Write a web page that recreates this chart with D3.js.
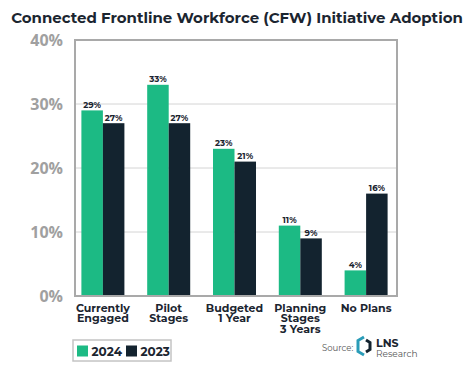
<!DOCTYPE html>
<html>
<head>
<meta charset="utf-8">
<script src="https://cdn.jsdelivr.net/npm/d3@7"></script>
<style>
  body { margin: 0; background: #fff; }
  text { font-family: "Montserrat", "Open Sans", "DejaVu Sans", sans-serif; }
</style>
</head>
<body>
<div id="chart"></div>
<script>
// chart data
const categories = [["Currently", "Engaged"], ["Pilot", "Stages"], ["Budgeted", "1 Year"], ["Planning", "Stages", "3 Years"], ["No Plans"]];
const years = ["2024", "2023"];
const values2024 = [29, 33, 23, 11, 4];
const values2023 = [27, 27, 21, 9, 16];
const yTicks = [0, 10, 20, 30, 40];
const colours = {"2024": "#1cba84", "2023": "#13232f"};

const width = 474, height = 369;
const plot = {left: 75, right: 397, top: 40, bottom: 296};

const svg = d3.select("#chart").append("svg")
    .attr("width", width)
    .attr("height", height);

svg.append("rect").attr("width", width).attr("height", height).attr("fill", "#fff");

// title - shrink font until it fits the reference width
const title = svg.append("text")
    .attr("x", 237)
    .attr("y", 23)
    .attr("text-anchor", "middle")
    .attr("font-size", 16.5)
    .attr("font-weight", 700)
    .attr("fill", "#1b2530")
    .text("Connected Frontline Workforce (CFW) Initiative Adoption");
let tw = title.node().getComputedTextLength();
if (tw > 452) {
    title.attr("font-size", 16.5 * 452 / tw);
}

const catIdx = d3.range(categories.length);
const x = d3.scaleBand().domain(catIdx).range([70, 399]).padding(0);
const xSub = d3.scaleBand().domain(years).range([0, x.bandwidth()]).paddingInner(0).paddingOuter(0.53);
const y = d3.scaleLinear().domain([0, 40]).range([plot.bottom, plot.top]);

// gridlines
svg.append("g")
    .selectAll("line")
    .data(yTicks.slice(1, -1))
    .enter().append("line")
        .attr("x1", plot.left).attr("x2", plot.right)
        .attr("y1", d => y(d)).attr("y2", d => y(d))
        .attr("stroke", "#d4d4d4")
        .attr("stroke-width", 1);

// y axis labels
const yAxis = svg.append("g")
    .attr("transform", `translate(${plot.left}, 0)`)
    .call(d3.axisLeft(y).tickValues(yTicks).tickFormat(d => d + "%").tickSize(0).tickPadding(12));
yAxis.select(".domain").remove();
yAxis.selectAll("text")
    .attr("font-size", 16)
    .attr("font-weight", 700)
    .attr("fill", "#a0a0a0")
    .style("font-family", "'Open Sans', sans-serif");

// bars
const rows = catIdx.map(i => ({i: i, vals: [{k: "2024", v: values2024[i]}, {k: "2023", v: values2023[i]}]}));

const groups = svg.append("g").selectAll("g")
    .data(rows)
    .enter().append("g")
        .attr("transform", d => `translate(${x(d.i)}, 0)`);

groups.selectAll("rect")
    .data(d => d.vals)
    .enter().append("rect")
        .attr("x", d => xSub(d.k))
        .attr("y", d => y(d.v))
        .attr("width", xSub.bandwidth())
        .attr("height", d => y(0) - y(d.v))
        .attr("fill", d => colours[d.k]);

groups.selectAll("text.val")
    .data(d => d.vals)
    .enter().append("text")
        .attr("class", "val")
        .attr("x", d => xSub(d.k) + xSub.bandwidth() / 2)
        .attr("y", d => y(d.v) - 2.5)
        .attr("text-anchor", "middle")
        .attr("font-size", 8.5)
        .attr("font-weight", 700)
        .attr("fill", "#1b2530")
        .text(d => d.v + "%");

// frame
svg.append("rect")
    .attr("x", plot.left).attr("y", plot.top)
    .attr("width", plot.right - plot.left).attr("height", plot.bottom - plot.top)
    .attr("fill", "none")
    .attr("stroke", "#a9a9a9")
    .attr("stroke-width", 2);

// category labels, one text per line
const catLabels = svg.append("g").selectAll("g")
    .data(catIdx)
    .enter().append("g");
catLabels.selectAll("text")
    .data(i => categories[i].map((s, j) => ({i: i, j: j, s: s})))
    .enter().append("text")
        .attr("x", d => x(d.i) + x.bandwidth() / 2)
        .attr("y", d => 311.5 + d.j * 10.7)
        .attr("text-anchor", "middle")
        .attr("font-size", 11)
        .attr("font-weight", 700)
        .attr("fill", "#1b2530")
        .text(d => d.s);

// legend
const legend = svg.append("g");
legend.append("rect")
    .attr("x", 73).attr("y", 340)
    .attr("width", 98).attr("height", 21)
    .attr("fill", "#fff")
    .attr("stroke", "#c4c4c4")
    .attr("stroke-width", 1.5);
const legX = d3.scaleOrdinal().domain(years).range([77, 126]);
years.forEach(k => {
    legend.append("rect")
        .attr("x", legX(k)).attr("y", 345.5)
        .attr("width", 11).attr("height", 11)
        .attr("fill", colours[k]);
    legend.append("text")
        .attr("x", legX(k) + 14.5).attr("y", 355.5)
        .attr("font-size", 12)
        .attr("font-weight", 700)
        .attr("fill", "#1b2530")
        .text(k);
});

// source
const src = svg.append("g");
src.append("text")
    .attr("x", 322).attr("y", 351)
    .attr("font-size", 8.5)
    .attr("fill", "#555")
    .text("Source:");
src.append("path")
    .attr("d", "M364,337 L358,340.5 L358,351.5 L364,355")
    .attr("fill", "none").attr("stroke", "#2a9cb8").attr("stroke-width", 3);
src.append("path")
    .attr("d", "M366,340 L370,342.5 L370,349.5 L366,352")
    .attr("fill", "none").attr("stroke", "#13232f").attr("stroke-width", 3);
src.append("text")
    .attr("x", 376).attr("y", 347)
    .attr("font-size", 11)
    .attr("font-weight", 700)
    .attr("fill", "#1b2530")
    .text("LNS");
src.append("text")
    .attr("x", 376).attr("y", 357)
    .attr("font-size", 9)
    .attr("fill", "#555")
    .text("Research");
</script>
</body>
</html>
